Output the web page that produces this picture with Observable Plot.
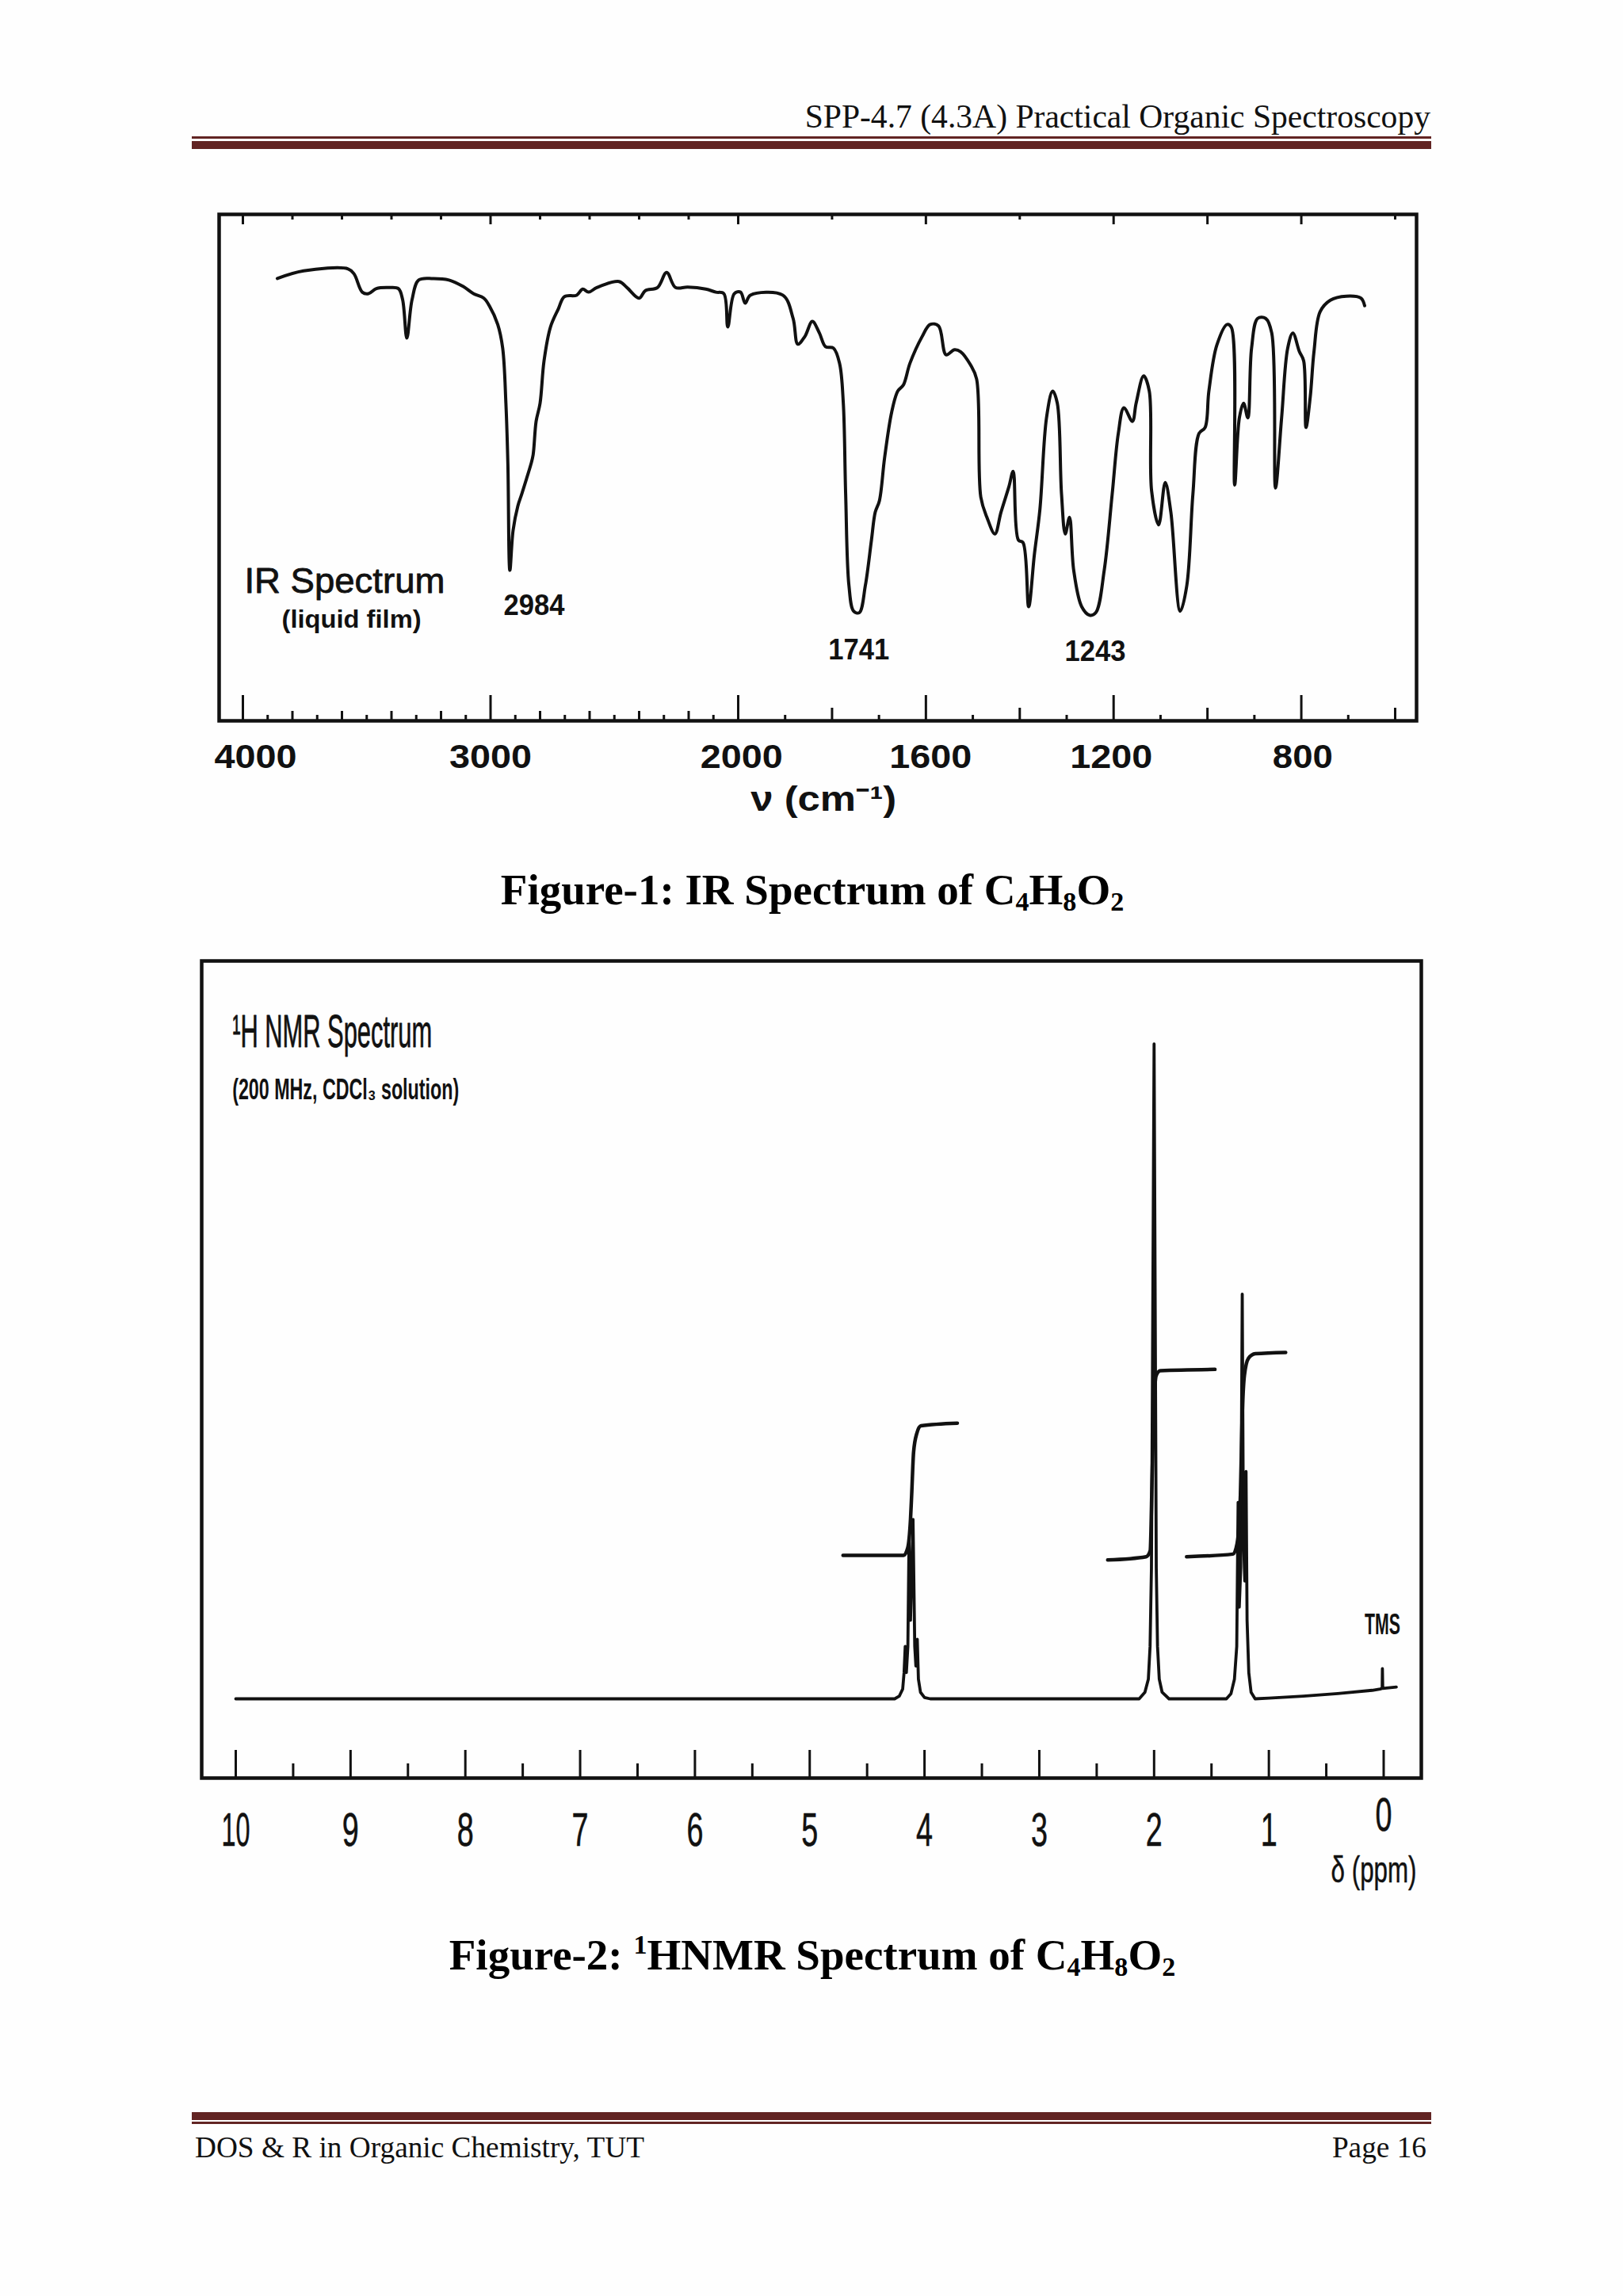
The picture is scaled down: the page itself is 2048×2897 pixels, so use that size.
<!DOCTYPE html>
<html><head><meta charset="utf-8">
<script src="https://cdn.jsdelivr.net/npm/d3@7"></script>
<script src="https://cdn.jsdelivr.net/npm/@observablehq/plot@0.6"></script>
<style>
html,body{margin:0;padding:0;background:#fff;}
#page{position:relative;width:2048px;height:2897px;background:#fefefe;overflow:hidden;}
.txt{position:absolute;font-family:"Liberation Serif","Times New Roman",serif;color:#111;white-space:nowrap;line-height:1;}
.rule{position:absolute;background:#622423;left:242px;width:1564px;}
.cap{position:absolute;left:0;width:2050px;text-align:center;font-family:"Liberation Serif","Times New Roman",serif;font-weight:bold;font-size:55px;line-height:1;color:#000;white-space:nowrap;}
.cap sub{font-size:0.62em;vertical-align:-0.22em;line-height:0;}
.cap sup{font-size:0.62em;vertical-align:0.6em;line-height:0;}
.plot{position:absolute;left:0;}
</style></head><body><div id="page">
<div class="txt" style="right:243px;top:127px;font-size:41.6px;">SPP-4.7 (4.3A) Practical Organic Spectroscopy</div>
<div class="rule" style="top:172px;height:3px;"></div>
<div class="rule" style="top:178px;height:10px;"></div>
<div class="plot" id="ir" style="top:230px;"></div>
<div class="cap" style="top:1095px;">Figure-1: IR Spectrum of C<sub>4</sub>H<sub>8</sub>O<sub>2</sub></div>
<div class="plot" id="nmr" style="top:1150px;"></div>
<div class="cap" style="top:2439px;">Figure-2: <sup>1</sup>HNMR Spectrum of C<sub>4</sub>H<sub>8</sub>O<sub>2</sub></div>
<div class="rule" style="top:2665px;height:10px;"></div>
<div class="rule" style="top:2677px;height:3px;"></div>
<div class="txt" style="left:246px;top:2691px;font-size:37.3px;">DOS &amp; R in Organic Chemistry, TUT</div>
<div class="txt" style="right:248px;top:2691px;font-size:37.3px;">Page 16</div>
</div>
<script>
// ---------------- IR data ----------------
const irWavenumber = [3861,3755,3575,3551,3518,3493,3461,3412,3372,3355,3338,3317,3290,3232,3168,3110,3069,3027,3005,2971,2951,2938,2930,2922,2909,2890,2874,2855,2837,2828,2816,2800,2784,2758,2726,2702,2652,2628,2604,2571,2481,2449,2400,2375,2326,2289,2253,2204,2131,2090,2058,2042,2016,1995,1985,1974,1905,1883,1873,1858,1842,1827,1814,1797,1784,1776,1771,1764,1754,1742,1729,1716,1708,1699,1688,1673,1660,1648,1634,1608,1591,1573,1557,1539,1526,1505,1492,1483,1470,1453,1440,1423,1414,1403,1393,1381,1369,1357,1343,1330,1320,1311,1303,1294,1285,1268,1251,1238,1220,1203,1190,1178,1160,1152,1136,1124,1119,1104,1090,1078,1058,1044,1031,1018,1005,997,980,958,949,942,932,923,914,906,893,876,863,855,842,829,818,804,795,790,781,773,760,738,704,673,665];
const irTransmittance = [87.3,88.8,89.2,88.2,84.6,84.3,85.3,85.5,85.3,83.1,75.5,83.1,87.0,87.3,87.0,85.7,84.3,83.4,81.9,78.2,73.5,62.6,50.6,29.5,37.4,42.2,44.6,47.6,50.5,52.4,59.0,62.6,71.0,77.7,81.3,83.7,84.0,85.2,84.6,85.5,86.7,85.5,83.4,84.9,85.5,88.5,85.5,85.6,85.2,84.6,84.3,77.7,84.3,84.6,82.4,84.0,84.0,79.4,74.3,75.8,78.8,76.5,73.8,73.5,70.5,62.6,44.6,26.5,21.4,21.1,26.5,35.5,41.0,43.3,51.8,60.8,65.0,66.2,70.5,75.8,78.2,77.9,72.2,73.2,72.8,70.2,67.4,44.0,40.0,36.7,41.0,46.1,49.1,35.5,35.0,22.3,32.5,41.6,59.7,65.0,62.6,44.6,36.7,40.0,29.5,22.3,20.6,21.1,29.5,44.6,56.6,61.7,59.0,62.6,68.0,65.0,45.2,38.5,46.9,41.0,21.4,26.5,44.6,56.6,57.8,65.0,74.1,78.2,77.6,46.4,59.7,62.6,59.7,73.5,79.4,79.4,76.5,45.8,59.7,73.5,76.5,72.8,71.0,57.8,63.8,72.8,80.7,83.0,83.8,83.4,81.9];
const irTickLabels = ["4000", "3000", "2000", "1600", "1200", "800"];
const irTickLabelAt = [3949, 3000, 1993, 1590, 1205, 797];
const irTicksMajor = [4000, 3000, 2000, 1600, 1200, 800];
const irTicksMid = [1800, 1400, 1000, 600];
const irTicksMinor = [3800, 3600, 3400, 3200, 2800, 2600, 2400, 2200];
const irTicksSmall = [3900, 3700, 3500, 3300, 3100, 2900, 2700, 2500, 2300, 2100, 1900, 1700, 1500, 1300, 1100, 900, 700];
const irTopLong = [4000, 3000, 2000, 1600, 1200, 1000, 800];
const irTopShort = [3800, 3600, 3400, 3200, 2800, 2600, 2400, 2200, 1800, 1400, 600];
const irPeakLabels = ["2984", "1741", "1243"];
const irPeakLabelWn = [2824, 1743, 1239];
const irPeakLabelT = [20.6, 11.8, 11.5];
const irTitle = ["IR Spectrum", "(liquid film)"];
const irTitleWn = [3994, 3843];
const irTitleT = [25.1, 18.1];
const irAxisTitle = "ν (cm⁻¹)";
const irAxisTitleWn = 1818;

// ---------------- NMR data ----------------
const nmrSpectrum = [
  [10.0,0],[8.0,0],[6.0,0],[4.3,0],
  [4.26,0],[4.22,0.4],[4.19,1.5],[4.178,4],[4.168,8.0],[4.158,4],[4.145,8],[4.135,24],[4.122,12],[4.10,27.4],[4.085,8],[4.075,5],[4.063,9.1],[4.053,3],[4.035,1],[4.0,0.2],[3.95,0],
  [3.0,0],[2.5,0],
  [2.13,0],[2.08,1],[2.05,3],[2.035,8],[2.023,20],[2.014,50],[2.0,100],[1.988,50],[1.981,20],[1.97,8],[1.955,3],[1.93,1],[1.87,0],
  [1.6,0],[1.37,0],
  [1.33,0.8],[1.30,3],[1.28,8],[1.268,30],[1.258,14],[1.245,20],[1.232,61.8],[1.222,25],[1.21,18],[1.199,34.7],[1.19,12],[1.175,4],[1.155,1],[1.12,0],
  [1.0,0.1],[0.7,0.4],[0.4,0.8],[0.1,1.3],[0.03,1.5],[0.013,1.6],[0.011,4.6],[0.008,1.6],[-0.11,1.8]
];
const integralQuartet = [[4.71,21.9],[4.182,21.9],[4.147,23.0],[4.122,27.4],[4.112,31.1],[4.095,37.7],[4.066,40.6],[4.031,41.7],[3.714,42.1]];
const integralSinglet = [[2.404,21.2],[2.069,21.7],[2.034,22.6],[2.016,34.7],[1.999,45.7],[1.981,49.4],[1.946,50.1],[1.47,50.3]];
const integralTriplet = [[1.717,21.7],[1.312,22.1],[1.277,23.7],[1.248,31.1],[1.234,42.1],[1.213,49.4],[1.178,52.0],[1.118,52.7],[0.854,52.9]];
const nmrTicksMajor = [10, 9, 8, 7, 6, 5, 4, 3, 2, 1, 0];
const nmrTickLabels = ["10", "9", "8", "7", "6", "5", "4", "3", "2", "1"];
const nmrZeroLabel = "0";
const nmrTicksMinor = [9.5, 8.5, 7.5, 6.5, 5.5, 4.5, 3.5, 2.5, 1.5, 0.5];
const nmrTitle = ["¹H NMR Spectrum", "(200 MHz, CDCl₃ solution)"];
const nmrTitleIntensity = [99.6, 91.6];
const nmrTitlePpm = 10.03;
const tmsLabel = {text: "TMS", ppm: 0.01, intensity: 11.3};
const nmrAxisTitle = {text: "δ (ppm)", ppm: 0.086};

// ---------------- helpers ----------------
const INK = "#111";
const SANS = "'Liberation Sans', Arial, Helvetica, sans-serif";
function fitText(svg, key, lengths) {
  d3.select(svg).selectAll(`g[aria-description="${key}"] text`).each(function(d, i) {
    const L = Array.isArray(lengths) ? lengths[i] : lengths;
    this.setAttribute("textLength", L);
    this.setAttribute("lengthAdjust", "spacingAndGlyphs");
  });
}

// ---------------- IR plot ----------------
const irData = irWavenumber.map((w, i) => ({wn: w, t: irTransmittance[i]}));
const IR_H = 800, IR_MT = 40, IR_MB = 121;
const irFrameH = IR_H - IR_MT - IR_MB;
const irTicks = (arr, len, pos) => Plot.ruleX(arr, {
  x: d => d, stroke: INK, strokeWidth: 3,
  ...(pos === "bottom" ? {insetTop: irFrameH - len} : {insetBottom: irFrameH - len})
});
const ir = Plot.plot({
  width: 2048, height: IR_H,
  marginLeft: 276, marginRight: 261, marginTop: IR_MT, marginBottom: IR_MB,
  style: {background: "transparent", fontFamily: SANS, overflow: "visible"},
  x: {type: "linear", domain: [4000, 2000, 600], range: [306, 931, 1760], axis: null},
  y: {domain: [0, 100], range: [IR_H - IR_MB - 2, IR_MT], axis: null},
  marks: [
    Plot.frame({stroke: INK, strokeWidth: 4.5}),
    irTicks(irTicksMajor, 32, "bottom"),
    irTicks(irTicksMid, 16, "bottom"),
    irTicks(irTicksMinor, 12, "bottom"),
    irTicks(irTicksSmall, 7, "bottom"),
    irTicks(irTopLong, 13, "top"),
    irTicks(irTopShort, 7, "top"),
    Plot.line(irData, {x: "wn", y: "t", stroke: INK, strokeWidth: 4, curve: "catmull-rom", strokeLinejoin: "round"}),
    Plot.text(irTitle.slice(0, 1), {x: () => irTitleWn[0], y: () => irTitleT[0], text: d => d, textAnchor: "start", lineAnchor: "bottom", fontSize: 45, fill: INK, stroke: INK, strokeWidth: 0.8, ariaDescription: "ir-title"}),
    Plot.text(irTitle.slice(1), {x: () => irTitleWn[1], y: () => irTitleT[1], text: d => d, textAnchor: "start", lineAnchor: "bottom", fontSize: 31, fontWeight: "bold", fill: INK, ariaDescription: "ir-sub"}),
    Plot.text(irPeakLabels, {x: (d, i) => irPeakLabelWn[i], y: (d, i) => irPeakLabelT[i], text: d => d, lineAnchor: "bottom", fontSize: 36, fontWeight: "bold", fill: INK, ariaDescription: "ir-peaks"}),
    Plot.text(irTickLabels, {x: (d, i) => irTickLabelAt[i], text: d => d, frameAnchor: "bottom", dy: 59, fontSize: 42, fontWeight: "bold", fill: INK, ariaDescription: "ir-ticklabels"}),
    Plot.text([irAxisTitle], {x: () => irAxisTitleWn, text: d => d, frameAnchor: "bottom", dy: 113, fontSize: 44, fontWeight: "bold", fill: INK, ariaDescription: "ir-axistitle"})
  ]
});
fitText(ir, "ir-title", 253);
fitText(ir, "ir-sub", 176);
fitText(ir, "ir-peaks", 77);
fitText(ir, "ir-ticklabels", irTickLabels.map(s => s.length === 4 ? 104 : 76));
fitText(ir, "ir-axistitle", 184);
document.getElementById("ir").appendChild(ir);

// ---------------- NMR plot ----------------
const NMR_H = 1280, NMR_MT = 62, NMR_MB = 187;
const nmrFrameH = NMR_H - NMR_MT - NMR_MB;
const specData = nmrSpectrum.map(([p, v]) => ({ppm: p, v}));
const intData = [
  ...integralQuartet.map(([p, v]) => ({ppm: p, v, g: "q"})),
  ...integralSinglet.map(([p, v]) => ({ppm: p, v, g: "s"})),
  ...integralTriplet.map(([p, v]) => ({ppm: p, v, g: "t"}))
];
const nmr = Plot.plot({
  width: 2048, height: NMR_H,
  marginLeft: 254, marginRight: 255, marginTop: NMR_MT, marginBottom: NMR_MB,
  style: {background: "transparent", fontFamily: SANS, overflow: "visible"},
  x: {domain: [10, 0], range: [297, 1745.5], axis: null},
  y: {domain: [0, 100], range: [993, 166.7], axis: null},
  marks: [
    Plot.frame({stroke: INK, strokeWidth: 4.5}),
    Plot.ruleX(nmrTicksMajor, {x: d => d, insetTop: nmrFrameH - 35, stroke: INK, strokeWidth: 3}),
    Plot.ruleX(nmrTicksMinor, {x: d => d, insetTop: nmrFrameH - 18, stroke: INK, strokeWidth: 3}),
    Plot.line(specData, {x: "ppm", y: "v", stroke: INK, strokeWidth: 3.8, strokeLinejoin: "round"}),
    Plot.line(intData, {x: "ppm", y: "v", z: "g", stroke: INK, strokeWidth: 4.5, curve: "monotone-x", strokeLinejoin: "round"}),
    Plot.text(nmrTickLabels, {x: (d, i) => nmrTicksMajor[i], text: d => d, frameAnchor: "bottom", dy: 85, fontSize: 60, fill: INK, stroke: INK, strokeWidth: 0.6, ariaDescription: "nmr-ticklabels"}),
    Plot.text([nmrZeroLabel], {x: () => 0, text: d => d, frameAnchor: "bottom", dy: 66, fontSize: 60, fill: INK, stroke: INK, strokeWidth: 0.6, ariaDescription: "nmr-zero"}),
    Plot.text([nmrAxisTitle], {x: "ppm", text: "text", frameAnchor: "bottom", dy: 131, fontSize: 46, fill: INK, stroke: INK, strokeWidth: 0.5, ariaDescription: "nmr-axistitle"}),
    Plot.text([tmsLabel], {x: "ppm", y: "intensity", text: "text", fontSize: 36, fontWeight: "bold", fill: INK, ariaDescription: "nmr-tms"}),
    Plot.text(nmrTitle.slice(0, 1), {x: () => nmrTitlePpm, y: () => nmrTitleIntensity[0], text: d => d, textAnchor: "start", lineAnchor: "bottom", fontSize: 58, fill: INK, stroke: INK, strokeWidth: 0.8, ariaDescription: "nmr-title"}),
    Plot.text(nmrTitle.slice(1), {x: () => nmrTitlePpm, y: () => nmrTitleIntensity[1], text: d => d, textAnchor: "start", lineAnchor: "bottom", fontSize: 36, fontWeight: "bold", fill: INK, ariaDescription: "nmr-sub"})
  ]
});
fitText(nmr, "nmr-ticklabels", nmrTickLabels.map(s => s.length === 2 ? 36 : 21));
fitText(nmr, "nmr-zero", 21);
fitText(nmr, "nmr-axistitle", 108);
fitText(nmr, "nmr-tms", 45);
fitText(nmr, "nmr-title", 252);
fitText(nmr, "nmr-sub", 286);
document.getElementById("nmr").appendChild(nmr);
</script>
</body></html>
